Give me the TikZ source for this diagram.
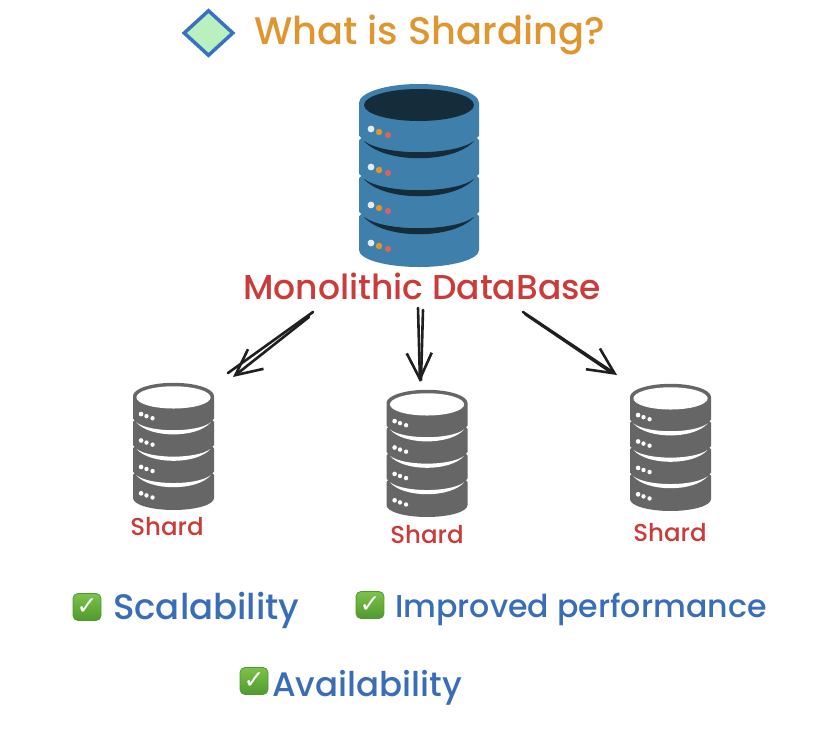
\documentclass[tikz,border=0pt]{standalone}
\usepackage{fontspec}
\usepackage{xcolor}
\usetikzlibrary{positioning,arrows.meta,shapes.geometric,calc}
\setmainfont{Poppins Medium}
\newfontfamily\symbfont{DejaVu Sans}
\definecolor{TitleOrange}{HTML}{E0962F}
\definecolor{LabelRed}{HTML}{C93C3A}
\definecolor{BenefitBlue}{HTML}{3A6DB8}
\definecolor{DiamondGreen}{HTML}{B9F0C0}
\definecolor{DiamondBlue}{HTML}{3A70C0}
\definecolor{BigBody}{HTML}{3E80AB}
\definecolor{BigDark}{HTML}{152C3A}
\definecolor{ShardBody}{HTML}{666666}
\definecolor{CheckTop}{HTML}{7CC24A}
\definecolor{CheckLow}{HTML}{4F9A2E}
\tikzset{
  pics/dbstack/.style n args={5}{code={
    % body, bottom to top
    \fill[#1] (-60,0) -- (-60,-147) arc[start angle=180,end angle=360,x radius=60,y radius=17]
      -- (60,0) arc[start angle=0,end angle=180,x radius=60,y radius=19] -- cycle;
    \fill[#2] (0,-2) ellipse[x radius=55,y radius=16];
    \foreach \y in {0,-38,-76}{
      \fill[#2] (-55,{\y-38}) .. controls (-35,{\y-53}) and (35,{\y-53}) .. (55,{\y-38})
        .. controls (35,{\y-61}) and (-35,{\y-61}) .. (-55,{\y-38}) -- cycle;
      \fill[white] (-61,{\y-32}) -- (-58,{\y-35}) -- (-61,{\y-38}) -- cycle;
      \fill[white] (61,{\y-32}) -- (58,{\y-35}) -- (61,{\y-38}) -- cycle;
    }
    \foreach \y in {0,-38,-76,-114}{
      \fill[#3] (-48,{\y-26}) circle[radius=3.4];
      \fill[#4] (-40,{\y-29}) circle[radius=3.2];
      \fill[#5] (-31,{\y-32}) circle[radius=3.2];
    }
  }},
  headline/.style={font=\fontsize{#1}{#1}\selectfont, inner sep=0pt, anchor=west},
  shardtext/.style={font=\fontsize{24.5}{26}\selectfont, text=LabelRed, inner sep=0pt},
  benefit/.style={font=\fontsize{#1}{#1}\selectfont, text=BenefitBlue, inner sep=0pt, anchor=west},
  checkbox/.style={top color=CheckTop, bottom color=CheckLow, draw=CheckLow, line width=0.8pt,
    rounded corners=5pt, minimum width=28pt, minimum height=27pt,
    inner sep=0pt, text=white, font=\symbfont\bfseries\fontsize{25}{25}\selectfont},
  sketchline/.style={line width=2.6pt, line cap=round, draw=black!88},
  sketcharrow/.style={sketchline, -{Straight Barb[length=26pt,width=25pt,line width=2.6pt]}},
  shardstack/.style={xscale=0.675, yscale=0.695},
}
\begin{document}
\begin{tikzpicture}[x=1pt,y=1pt]
  \useasboundingbox (0,0) rectangle (829,-731);

  % title
  \node[diamond, draw=DiamondBlue, fill=DiamondGreen, line width=3.5pt, inner sep=0pt,
    minimum width=50pt, minimum height=46pt] (logo) at (208.5,-33) {};
  \node[headline=38.4, text=TitleOrange] (title) at (254,-35) {What is Sharding?};

  % databases
  \pic at (419,-103) {dbstack={BigBody}{BigDark}{white!85!BigBody}{TitleOrange}{LabelRed!80}};
  \pic[shardstack] at (173.5,-396) {dbstack={ShardBody}{white}{white}{white}{white}};
  \pic[shardstack] at (427,-403) {dbstack={ShardBody}{white}{white}{white}{white}};
  \pic[shardstack] at (670.5,-397) {dbstack={ShardBody}{white}{white}{white}{white}};

  \node[headline=34.5, text=LabelRed] (mono) at (243,-286) {Monolithic DataBase};
  \node[shardtext] (shardA) at (167,-527) {Shard};
  \node[shardtext] (shardB) at (427,-535) {Shard};
  \node[shardtext] (shardC) at (670,-533) {Shard};

  % arrows
  \coordinate (leftTop) at (313,-312);
  \coordinate (leftEnd) at (228,-373);
  \coordinate (leftTopB) at (309,-317);
  \coordinate (leftEndB) at (233,-377);
  \coordinate (midTop) at (418,-308);
  \coordinate (midEnd) at (420,-382);
  \coordinate (midTopB) at (423,-310);
  \coordinate (midEndB) at (421,-380);
  \coordinate (rightTop) at (523,-312);
  \coordinate (rightEnd) at (617,-375);
  \coordinate (rightTopB) at (525,-314);
  \coordinate (rightEndB) at (612,-373);
  \draw[sketchline] (leftTop) -- (leftEnd);
  \draw[sketcharrow] (leftTopB) -- (leftEndB);
  \draw[sketchline] (midTopB) -- (midEndB);
  \draw[sketcharrow] (midTop) -- (midEnd);
  \draw[sketchline] (rightTopB) -- (rightEndB);
  \draw[sketcharrow] (rightTop) -- (rightEnd);

  % benefits
  \node[checkbox] (checkA) at (87,-607) {✓};
  \node[benefit=35.5] (scale) at (113,-610) {Scalability};
  \node[checkbox] (checkB) at (370,-605) {✓};
  \node[benefit=31.6] (perf) at (395,-609) {Improved performance};
  \node[checkbox] (checkC) at (254,-681) {✓};
  \node[benefit=34] (avail) at (272,-688) {Availability};
\end{tikzpicture}
\end{document}
